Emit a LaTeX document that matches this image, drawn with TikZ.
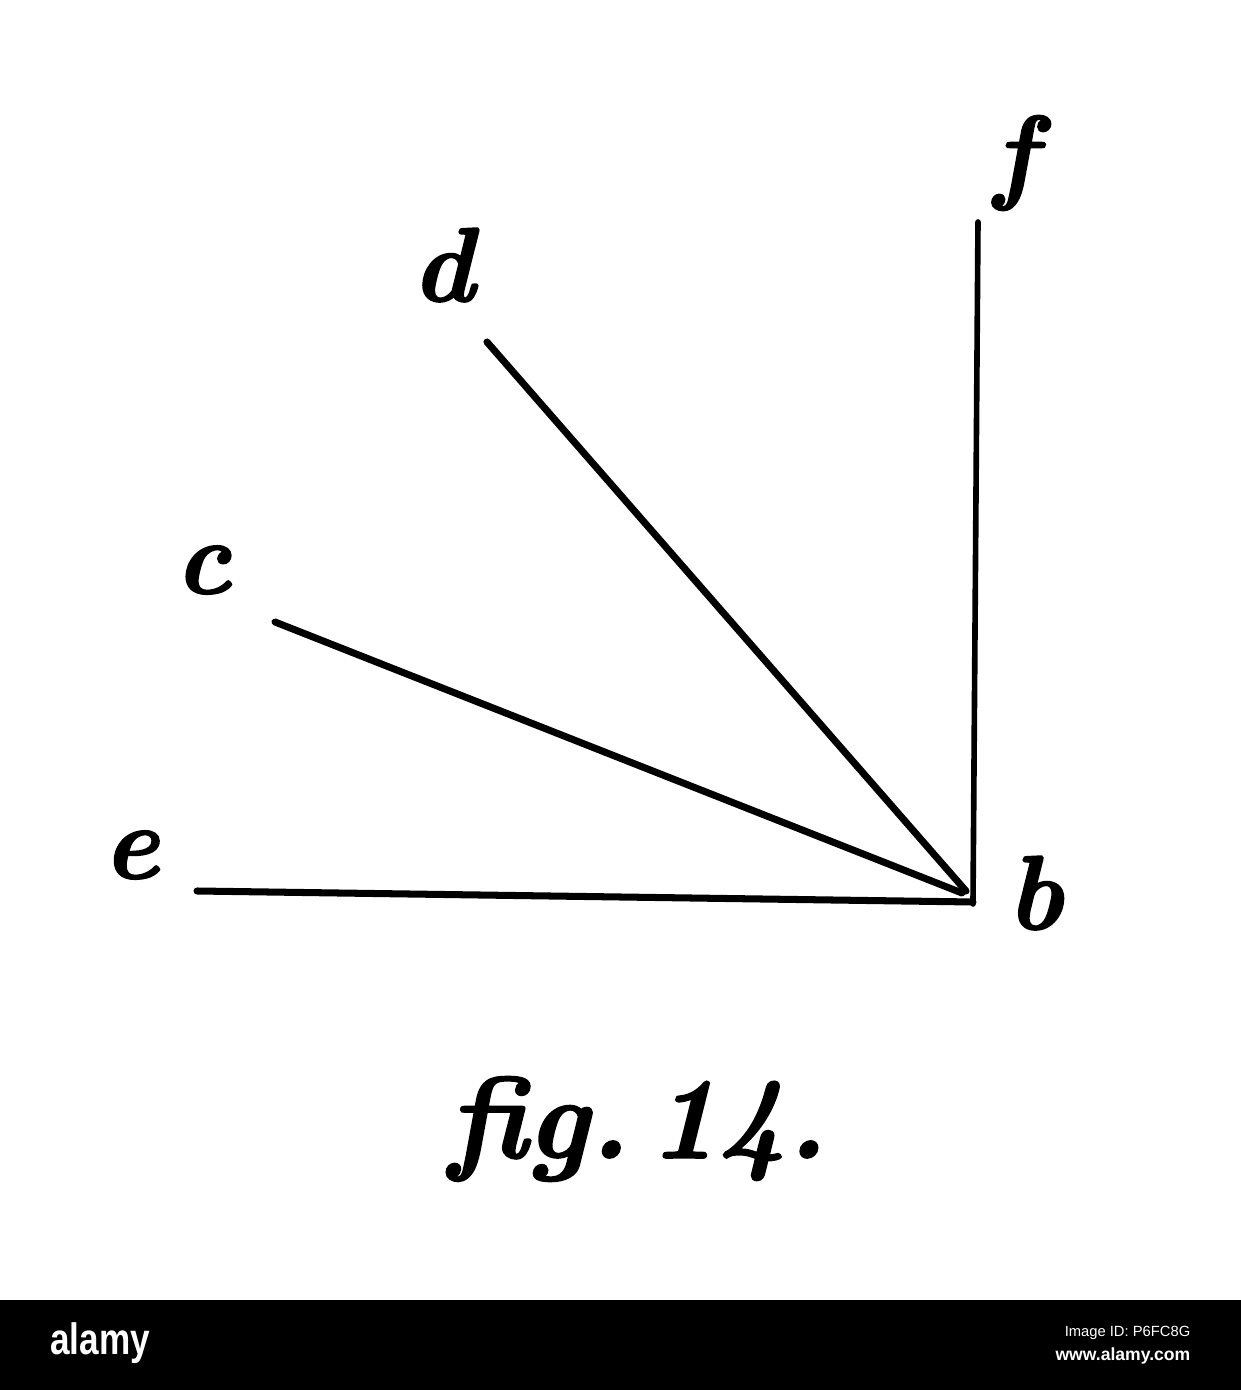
\documentclass[tikz,border=0pt]{standalone}
\usepackage{fontspec}
\newfontfamily\wmfont{Liberation Sans}
\newfontfamily\heavyit{Latin Modern Roman}[FakeBold=1.5]
\usetikzlibrary{positioning}

\tikzset{
  ray/.style={line width=2pt, line cap=round},
  lbl/.style={inner sep=0pt, font=\heavyit\fontsize{30}{34}\selectfont\bfseries\itshape},
  wm/.style={text=white, inner sep=0pt}
}

\begin{document}
\begin{tikzpicture}
\useasboundingbox (0,0) rectangle (12.41,13.90);

% vertex and free ends
\coordinate (B) at (9.70,4.90);
\coordinate (Bv) at (9.73,4.86);
\coordinate (Bh) at (9.73,4.88);
\coordinate (F) at (9.78,11.68);
\coordinate (D) at (4.87,10.48);
\coordinate (C) at (2.75,7.68);
\coordinate (E) at (1.97,4.99);

\draw [ray, line width=1.6pt] (F) -- (Bv);
\draw [ray] (D) -- (9.66,4.99);
\draw [ray] (C) -- (9.62,4.97);
\draw [ray] (E) -- (Bh);

\node [lbl] (labf) at (10.15,12.27) {f};
\node [lbl] (labd) at (4.43,11.25) {d};
\node [lbl] (labc) at (2.03,8.20) {c};
\node [lbl] (labe) at (1.31,5.35) {e};
\node [lbl] (labb) at (10.35,4.97) {b};

\node [lbl, font=\heavyit\fontsize{33}{37}\selectfont\bfseries\itshape, anchor=base] (cap) at (6.38,2.32) {fig.\,14.};

% stock banner
\fill [black] (0,0) rectangle (12.41,0.90);
\node [wm, anchor=base, xscale=0.8, font=\wmfont\fontsize{12.5}{14}\selectfont\bfseries] (logo) at (1.00,0.35) {alamy};
\node [wm, anchor=base east, font=\wmfont\fontsize{4.2}{5}\selectfont] (imgid) at (11.91,0.53) {Image ID: P6FC8G};
\node [wm, anchor=base east, font=\wmfont\fontsize{5}{6}\selectfont\bfseries] (site) at (11.91,0.30) {www.alamy.com};
\end{tikzpicture}
\end{document}
